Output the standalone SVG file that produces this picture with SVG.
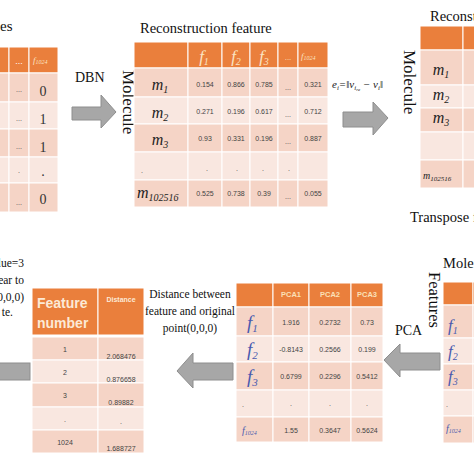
<svg xmlns="http://www.w3.org/2000/svg" width="474" height="474" viewBox="0 0 474 474">
<defs>
<style>
.hd{fill:#EA7F3C;stroke:#fff;stroke-width:1}
.ra{fill:#F5D4C6;stroke:#fff;stroke-width:1}
.rb{fill:#F9E7E0;stroke:#fff;stroke-width:1}
.ser{font-family:"Liberation Serif",serif;fill:#111}
.mi{font-family:"Liberation Serif",serif;font-style:italic;fill:#222}
.hf{font-family:"Liberation Serif",serif;font-style:italic;fill:#FBE3C3}
.bf{font-family:"Liberation Serif",serif;font-style:italic;fill:#4A5AAE}
.v{font-family:"Liberation Sans",sans-serif;font-size:7px;fill:#444;text-anchor:middle}
.hs{font-family:"Liberation Sans",sans-serif;font-weight:bold;fill:#FBE0B8;text-anchor:middle}
.ar{fill:#A7A7A7;stroke:#8E8E8E;stroke-width:1}
.c{text-anchor:middle}
</style>
</defs>
<rect width="474" height="474" fill="#fff"/>

<g id="connectors">
<polygon class="ar" points="72,107 101,107 101,95 116,112 101,128 101,120 72,120"/>
<polygon class="ar" points="343,112 373,112 373,102 388,118 373,135 373,127 343,127"/>
<polygon class="ar" points="440,353 400,353 400,344 384,360 400,377 400,370 440,370"/>
<polygon class="ar" points="233,363 193,363 193,353 177,371 193,388 193,380 233,380"/>
<rect class="ar" x="-2" y="363" width="32" height="17"/>
</g>

<g id="labels">
<text class="ser" x="75" y="82" font-size="14">DBN</text>
<text class="mi" x="332" y="88" font-size="11">e<tspan font-size="7" dy="2">i</tspan><tspan dy="-2">=‖v</tspan><tspan font-size="7" dy="2">i</tspan><tspan font-size="5" dy="1">re</tspan><tspan dy="-3"> − v</tspan><tspan font-size="7" dy="2">i</tspan><tspan dy="-2">‖</tspan></text>
<text class="ser" x="395" y="335" font-size="14">PCA</text>
<text class="ser c" x="190" y="298" font-size="11.5">Distance between</text>
<text class="ser c" x="190" y="315" font-size="11.5">feature and original</text>
<text class="ser c" x="190" y="332" font-size="11.5">point(0,0,0)</text>
<text class="ser" x="24" y="267" font-size="11.5" text-anchor="end">lue=3</text>
<text class="ser" x="24" y="284" font-size="11.5" text-anchor="end">ear to</text>
<text class="ser" x="24" y="301" font-size="11.5" text-anchor="end">0,0,0)</text>
<text class="ser" x="13" y="316" font-size="11.5" text-anchor="end">te.</text>
<text class="ser" x="410" y="222" font-size="14.5">Transpose f</text>
</g>

<g id="table-binary">
<text class="ser" x="0" y="31" font-size="15">es</text>
<rect class="hd" x="-2" y="47" width="11" height="26"/>
<rect class="hd" x="9" y="47" width="20" height="26"/>
<rect class="hd" x="29" y="47" width="29" height="26"/>
<text x="19" y="64" font-size="9" fill="#fff" class="c" font-family="Liberation Sans,sans-serif">...</text>
<text class="hf" x="33" y="63" font-size="9">f<tspan font-size="6" dy="1">1024</tspan></text>
<rect class="ra" x="-2" y="73" width="11" height="29"/><rect class="ra" x="9" y="73" width="20" height="29"/><rect class="ra" x="29" y="73" width="29" height="29"/>
<rect class="rb" x="-2" y="102" width="11" height="27"/><rect class="rb" x="9" y="102" width="20" height="27"/><rect class="rb" x="29" y="102" width="29" height="27"/>
<rect class="ra" x="-2" y="129" width="11" height="28"/><rect class="ra" x="9" y="129" width="20" height="28"/><rect class="ra" x="29" y="129" width="29" height="28"/>
<rect class="rb" x="-2" y="157" width="11" height="26"/><rect class="rb" x="9" y="157" width="20" height="26"/><rect class="rb" x="29" y="157" width="29" height="26"/>
<rect class="ra" x="-2" y="183" width="11" height="29"/><rect class="ra" x="9" y="183" width="20" height="29"/><rect class="ra" x="29" y="183" width="29" height="29"/>
<g class="v" font-size="8">
<text x="19" y="92">...</text><text x="19" y="121">...</text><text x="19" y="149">...</text><text x="19" y="173">.</text><text x="19" y="205">...</text>
</g>
<g class="ser c" font-size="14" fill="#333">
<text x="43" y="96" fill="#333">0</text><text x="43" y="124" fill="#333">1</text><text x="43" y="152" fill="#333">1</text><text x="43" y="176" fill="#333">.</text><text x="43" y="204" fill="#333">0</text>
</g>
</g>

<g id="table-reconstruction">
<text class="ser" x="140" y="33" font-size="14.5">Reconstruction feature</text>
<text class="ser" x="123" y="70" font-size="17" transform="rotate(90 123 70)">Molecule</text>
<rect class="hd" x="134" y="42" width="54" height="26"/><rect class="hd" x="188" y="42" width="34" height="26"/><rect class="hd" x="222" y="42" width="28" height="26"/><rect class="hd" x="250" y="42" width="28" height="26"/><rect class="hd" x="278" y="42" width="20" height="26"/><rect class="hd" x="298" y="42" width="30" height="26"/>
<text class="hf c" x="204" y="62" font-size="17">f<tspan font-size="10" dy="3">1</tspan></text>
<text class="hf c" x="236" y="62" font-size="17">f<tspan font-size="10" dy="3">2</tspan></text>
<text class="hf c" x="264" y="62" font-size="17">f<tspan font-size="10" dy="3">3</tspan></text>
<text x="288" y="60" font-size="8" fill="#FBE3C3" class="c" font-family="Liberation Sans,sans-serif">...</text>
<text class="hf" x="301" y="59" font-size="9">f<tspan font-size="6" dy="1">1024</tspan></text>
<g>
<rect class="ra" x="134" y="68" width="54" height="29"/><rect class="ra" x="188" y="68" width="34" height="29"/><rect class="ra" x="222" y="68" width="28" height="29"/><rect class="ra" x="250" y="68" width="28" height="29"/><rect class="ra" x="278" y="68" width="20" height="29"/><rect class="ra" x="298" y="68" width="30" height="29"/>
<rect class="rb" x="134" y="97" width="54" height="27"/><rect class="rb" x="188" y="97" width="34" height="27"/><rect class="rb" x="222" y="97" width="28" height="27"/><rect class="rb" x="250" y="97" width="28" height="27"/><rect class="rb" x="278" y="97" width="20" height="27"/><rect class="rb" x="298" y="97" width="30" height="27"/>
<rect class="ra" x="134" y="124" width="54" height="28"/><rect class="ra" x="188" y="124" width="34" height="28"/><rect class="ra" x="222" y="124" width="28" height="28"/><rect class="ra" x="250" y="124" width="28" height="28"/><rect class="ra" x="278" y="124" width="20" height="28"/><rect class="ra" x="298" y="124" width="30" height="28"/>
<rect class="rb" x="134" y="152" width="54" height="28"/><rect class="rb" x="188" y="152" width="34" height="28"/><rect class="rb" x="222" y="152" width="28" height="28"/><rect class="rb" x="250" y="152" width="28" height="28"/><rect class="rb" x="278" y="152" width="20" height="28"/><rect class="rb" x="298" y="152" width="30" height="28"/>
<rect class="ra" x="134" y="180" width="54" height="27"/><rect class="ra" x="188" y="180" width="34" height="27"/><rect class="ra" x="222" y="180" width="28" height="27"/><rect class="ra" x="250" y="180" width="28" height="27"/><rect class="ra" x="278" y="180" width="20" height="27"/><rect class="ra" x="298" y="180" width="30" height="27"/>
</g>
<text class="mi c" x="160" y="90" font-size="16">m<tspan font-size="10" dy="3">1</tspan></text>
<text class="mi c" x="160" y="118" font-size="16">m<tspan font-size="10" dy="3">2</tspan></text>
<text class="mi c" x="160" y="145" font-size="16">m<tspan font-size="10" dy="3">3</tspan></text>
<text class="mi" x="137" y="198" font-size="16">m<tspan font-size="10" dy="3">102516</tspan></text>
<g class="v">
<text x="205" y="87">0.154</text><text x="236" y="87">0.866</text><text x="264" y="87">0.785</text><text x="288" y="90">...</text><text x="313" y="87">0.321</text>
<text x="205" y="114">0.271</text><text x="236" y="114">0.196</text><text x="264" y="114">0.617</text><text x="288" y="117">...</text><text x="313" y="114">0.712</text>
<text x="205" y="141">0.93</text><text x="236" y="141">0.331</text><text x="264" y="141">0.196</text><text x="288" y="144">...</text><text x="313" y="141">0.887</text>
<text x="142" y="173">.</text><text x="207" y="171">.</text><text x="237" y="171">.</text><text x="263" y="171">.</text><text x="289" y="171">.</text>
<text x="205" y="196">0.525</text><text x="236" y="196">0.738</text><text x="264" y="196">0.39</text><text x="288" y="199">...</text><text x="313" y="196">0.055</text>
</g>
</g>

<g id="table-error">
<text class="ser" x="430" y="21" font-size="14.5">Reconst</text>
<text class="ser" x="404" y="50" font-size="17" transform="rotate(90 404 50)">Molecule</text>
<rect class="hd" x="420" y="26" width="43" height="24"/><rect class="hd" x="463" y="26" width="14" height="24"/>
<rect class="ra" x="420" y="50" width="43" height="35"/><rect class="ra" x="463" y="50" width="14" height="35"/>
<rect class="rb" x="420" y="85" width="43" height="23"/><rect class="rb" x="463" y="85" width="14" height="23"/>
<rect class="ra" x="420" y="108" width="43" height="24"/><rect class="ra" x="463" y="108" width="14" height="24"/>
<rect class="rb" x="420" y="132" width="43" height="28"/><rect class="rb" x="463" y="132" width="14" height="28"/>
<rect class="ra" x="420" y="160" width="43" height="28"/><rect class="ra" x="463" y="160" width="14" height="28"/>
<text class="mi c" x="441" y="75" font-size="16">m<tspan font-size="10" dy="3">1</tspan></text>
<text class="mi c" x="441" y="100" font-size="16">m<tspan font-size="10" dy="3">2</tspan></text>
<text class="mi c" x="441" y="123" font-size="16">m<tspan font-size="10" dy="3">3</tspan></text>
<text class="mi" x="423" y="179" font-size="10">m<tspan font-size="7" dy="2">102516</tspan></text>
</g>

<g id="table-transpose">
<text class="ser" x="443" y="268" font-size="14.5">Mole</text>
<text class="ser" x="429" y="272" font-size="16.5" transform="rotate(90 429 272)">Features</text>
<rect class="hd" x="443" y="282" width="30" height="23"/><rect class="hd" x="473" y="282" width="4" height="23"/>
<rect class="ra" x="443" y="305" width="30" height="33"/><rect class="ra" x="473" y="305" width="4" height="33"/>
<rect class="rb" x="443" y="338" width="30" height="26"/><rect class="rb" x="473" y="338" width="4" height="26"/>
<rect class="ra" x="443" y="364" width="30" height="26"/><rect class="ra" x="473" y="364" width="4" height="26"/>
<rect class="rb" x="443" y="390" width="30" height="26"/><rect class="rb" x="473" y="390" width="4" height="26"/>
<rect class="ra" x="443" y="416" width="30" height="27"/><rect class="ra" x="473" y="416" width="4" height="27"/>
<text class="bf" x="448" y="331" font-size="17">f<tspan font-size="10" dy="3">1</tspan></text>
<text class="bf" x="448" y="357" font-size="17">f<tspan font-size="10" dy="3">2</tspan></text>
<text class="bf" x="448" y="382" font-size="17">f<tspan font-size="10" dy="3">3</tspan></text>
<text class="v" x="447" y="407">.</text>
<text class="bf" x="446" y="432" font-size="10">f<tspan font-size="6" dy="1">1024</tspan></text>
</g>

<g id="table-pca">
<rect class="hd" x="236" y="283" width="37" height="24"/><rect class="hd" x="273" y="283" width="36" height="24"/><rect class="hd" x="309" y="283" width="42" height="24"/><rect class="hd" x="351" y="283" width="32" height="24"/>
<text class="hs" x="291" y="297" font-size="7.5">PCA1</text><text class="hs" x="330" y="297" font-size="7.5">PCA2</text><text class="hs" x="367" y="297" font-size="7.5">PCA3</text>
<rect class="ra" x="236" y="307" width="37" height="29"/><rect class="ra" x="273" y="307" width="36" height="29"/><rect class="ra" x="309" y="307" width="42" height="29"/><rect class="ra" x="351" y="307" width="32" height="29"/>
<rect class="rb" x="236" y="336" width="37" height="26"/><rect class="rb" x="273" y="336" width="36" height="26"/><rect class="rb" x="309" y="336" width="42" height="26"/><rect class="rb" x="351" y="336" width="32" height="26"/>
<rect class="ra" x="236" y="362" width="37" height="28"/><rect class="ra" x="273" y="362" width="36" height="28"/><rect class="ra" x="309" y="362" width="42" height="28"/><rect class="ra" x="351" y="362" width="32" height="28"/>
<rect class="rb" x="236" y="390" width="37" height="27"/><rect class="rb" x="273" y="390" width="36" height="27"/><rect class="rb" x="309" y="390" width="42" height="27"/><rect class="rb" x="351" y="390" width="32" height="27"/>
<rect class="ra" x="236" y="417" width="37" height="25"/><rect class="ra" x="273" y="417" width="36" height="25"/><rect class="ra" x="309" y="417" width="42" height="25"/><rect class="ra" x="351" y="417" width="32" height="25"/>
<text class="bf" x="247" y="329" font-size="19">f<tspan font-size="11" dy="3">1</tspan></text>
<text class="bf" x="247" y="356" font-size="19">f<tspan font-size="11" dy="3">2</tspan></text>
<text class="bf" x="247" y="383" font-size="19">f<tspan font-size="11" dy="3">3</tspan></text>
<text class="bf" x="242" y="434" font-size="10">f<tspan font-size="6" dy="1">1024</tspan></text>
<g class="v" font-size="7.5">
<text x="291" y="325">1.916</text><text x="330" y="325">0.2732</text><text x="367" y="325">0.73</text>
<text x="291" y="352">-0.8143</text><text x="330" y="352">0.2566</text><text x="367" y="352">0.199</text>
<text x="291" y="379">0.6799</text><text x="330" y="379">0.2296</text><text x="367" y="379">0.5412</text>
<text x="243" y="407">.</text><text x="291" y="406">.</text><text x="330" y="406">.</text><text x="367" y="406">.</text>
<text x="291" y="433">1.55</text><text x="330" y="433">0.3647</text><text x="367" y="433">0.5624</text>
</g>
</g>

<g id="table-distance">
<rect class="hd" x="32" y="288" width="66" height="47"/><rect class="hd" x="98" y="288" width="46" height="47"/>
<text x="37" y="308" font-size="14" font-weight="bold" fill="#FCE9D6" font-family="Liberation Sans,sans-serif">Feature</text>
<text x="37" y="328" font-size="14" font-weight="bold" fill="#FCE9D6" font-family="Liberation Sans,sans-serif">number</text>
<text x="121" y="302" font-size="7" font-weight="bold" fill="#FCE9D6" text-anchor="middle" font-family="Liberation Sans,sans-serif">Distance</text>
<rect class="ra" x="32" y="337" width="66" height="23"/><rect class="ra" x="98" y="337" width="46" height="23"/>
<rect class="rb" x="32" y="360" width="66" height="23"/><rect class="rb" x="98" y="360" width="46" height="23"/>
<rect class="ra" x="32" y="383" width="66" height="24"/><rect class="ra" x="98" y="383" width="46" height="24"/>
<rect class="rb" x="32" y="407" width="66" height="23"/><rect class="rb" x="98" y="407" width="46" height="23"/>
<rect class="ra" x="32" y="430" width="66" height="23"/><rect class="ra" x="98" y="430" width="46" height="23"/>
<g class="v" font-size="7.5">
<text x="65" y="352">1</text><text x="121" y="359">2.068476</text>
<text x="65" y="375">2</text><text x="121" y="382">0.876658</text>
<text x="65" y="398">3</text><text x="121" y="405">0.89882</text>
<text x="65" y="422">.</text><text x="121" y="424">.</text>
<text x="65" y="445">1024</text><text x="121" y="451">1.688727</text>
</g>
</g>
</svg>
